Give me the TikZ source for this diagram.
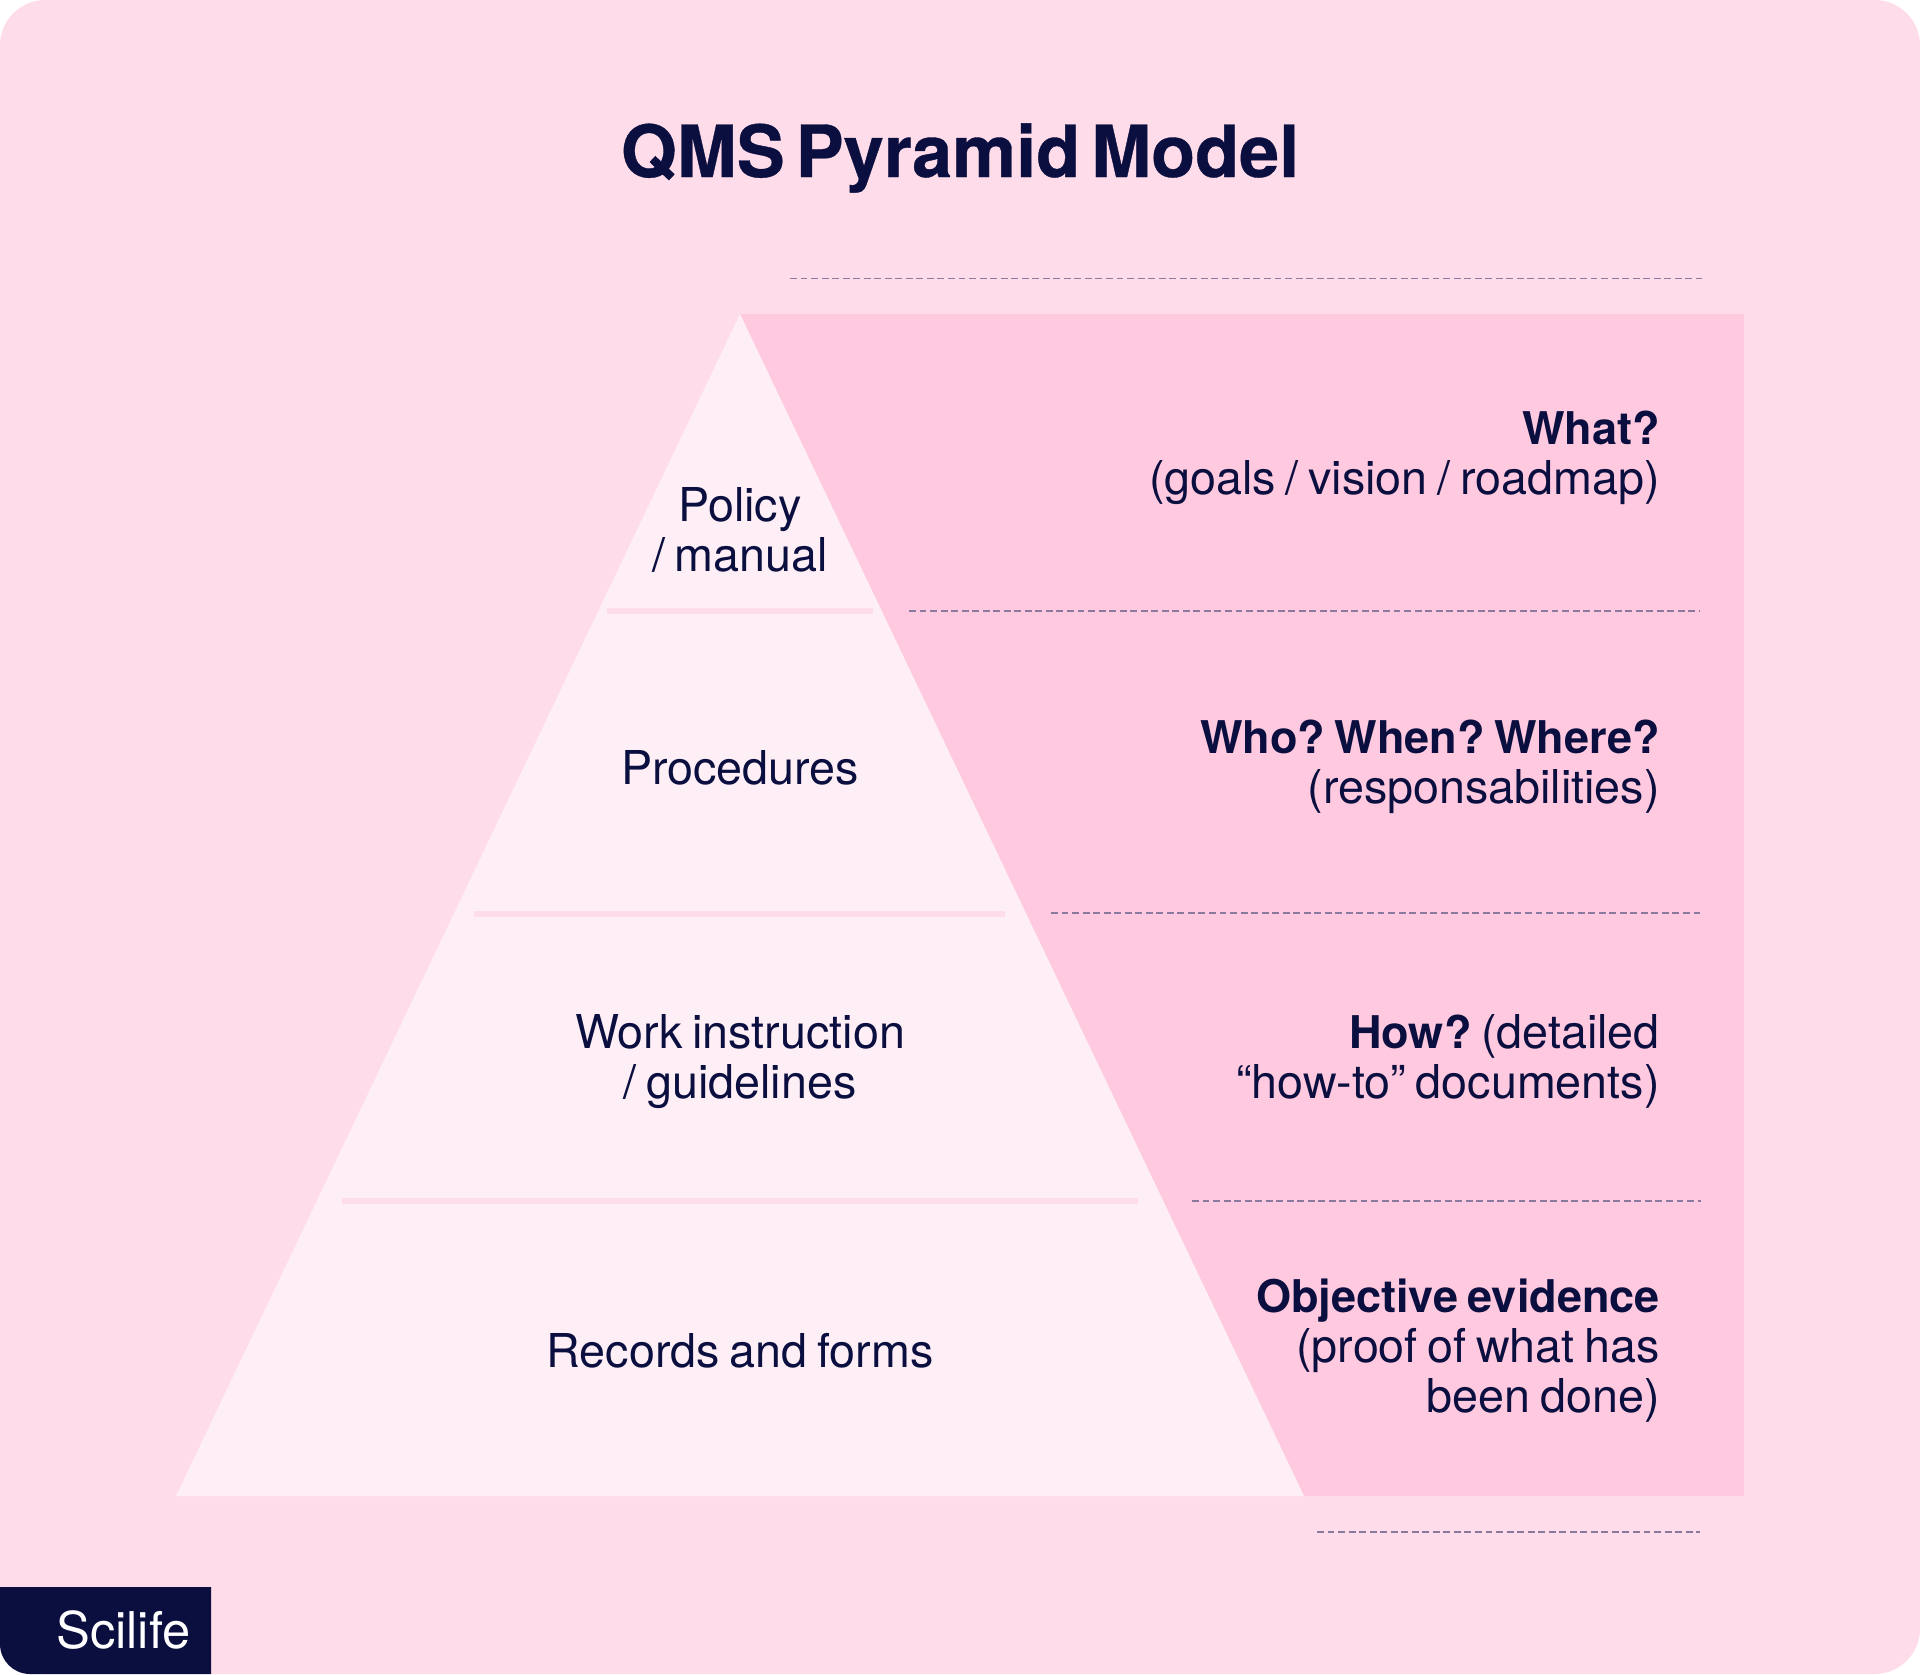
\documentclass[tikz,border=0pt]{standalone}
\usepackage{fontspec}
\setmainfont[WordSpace=0.75]{TeX Gyre Heros}
\newfontfamily\titlefont[WordSpace=0.55,BoldFeatures={FakeBold=0.5}]{TeX Gyre Heros}
\frenchspacing
\definecolor{bgpink}{HTML}{FFDCE9}
\definecolor{panelpink}{HTML}{FFC9DF}
\definecolor{palepink}{HTML}{FEEEF5}
\definecolor{navy}{HTML}{0A0F40}
\definecolor{dashgrey}{HTML}{8A7A9E}
\newcommand{\headbit}[1]{{\fontsize{33.8pt}{37.5pt}\selectfont\bfseries #1}}
\tikzset{
  bodytext/.style={text=navy,font=\fontsize{35pt}{37.5pt}\selectfont\frenchspacing,inner sep=0pt},
  lefttext/.style={bodytext,align=center,anchor=center},
  righttext/.style={bodytext,align=right,anchor=east},
  dashline/.style={draw=dashgrey,line width=1pt,dash pattern=on 5.2pt off 2.7pt},
  tierline/.style={draw=bgpink,line width=3.8pt},
}
\begin{document}
\begin{tikzpicture}[x=0.75pt,y=-0.75pt]
\useasboundingbox (0,0) rectangle (1920,1674);
\fill[white] (0,0) rectangle (1920,1674);
\fill[bgpink,rounded corners=34pt] (0,0) rectangle (1920,1674);
% panel and pyramid
\fill[panelpink] (740,314) -- (1744,314) -- (1744,1496) -- (1304,1496) -- cycle;
\fill[palepink] (740,314) -- (1304,1496) -- (176,1496) -- cycle;
% tier lines
\coordinate (t1a) at (607,611); \coordinate (t1b) at (873,611);
\coordinate (t2a) at (474,914); \coordinate (t2b) at (1005,914);
\coordinate (t3a) at (342,1201); \coordinate (t3b) at (1138,1201);
\draw[tierline] (t1a) -- (t1b);
\draw[tierline] (t2a) -- (t2b);
\draw[tierline] (t3a) -- (t3b);
% dashed rules
\coordinate (d0a) at (790,278.5); \coordinate (d0b) at (1702,278.5);
\coordinate (d1a) at (909,611); \coordinate (d1b) at (1700,611);
\coordinate (d2a) at (1051,913); \coordinate (d2b) at (1702,913);
\coordinate (d3a) at (1192,1201); \coordinate (d3b) at (1701,1201);
\coordinate (d4a) at (1317,1532); \coordinate (d4b) at (1700,1532);
\draw[dashline] (d0a) -- (d0b);
\draw[dashline] (d1a) -- (d1b);
\draw[dashline] (d2a) -- (d2b);
\draw[dashline] (d3a) -- (d3b);
\draw[dashline] (d4a) -- (d4b);
% title
\node[text=navy,inner sep=0pt,anchor=base,font=\fontsize{54pt}{60pt}\titlefont\bfseries\frenchspacing] (title) at (960,177) {QMS Pyramid Model};
% pyramid labels
\node[lefttext] (policy) at (740,530) {Policy\\/ manual};
\node[lefttext] (proc) at (740,768) {Procedures};
\node[lefttext] (work) at (740,1062) {Work instruction\\/ guidelines};
\node[lefttext] (rec) at (740,1351) {Records and forms};
% right labels
\node[righttext] (what) at (1660,458) {\headbit{What?}\\(goals / vision / roadmap)};
\node[righttext] (who) at (1660,767) {\headbit{Who? When? Where?}\\(responsabilities)};
\node[righttext] (how) at (1660,1061) {\headbit{How?} (detailed\\“how-to” documents)};
\node[righttext] (obj) at (1660,1351) {\headbit{Objective evidence}\\(proof of what has\\been done)};
% logo tile
\fill[navy] (0,1587) -- (211,1587) -- (211,1674) -- (30,1674) .. controls (13.4,1674) and (0,1660.6) .. (0,1644) -- cycle;
\node[text=white,inner sep=0pt,anchor=base west,font=\fontsize{38pt}{40pt}\selectfont] (logo) at (56,1648) {Scilife};
\end{tikzpicture}
\end{document}
